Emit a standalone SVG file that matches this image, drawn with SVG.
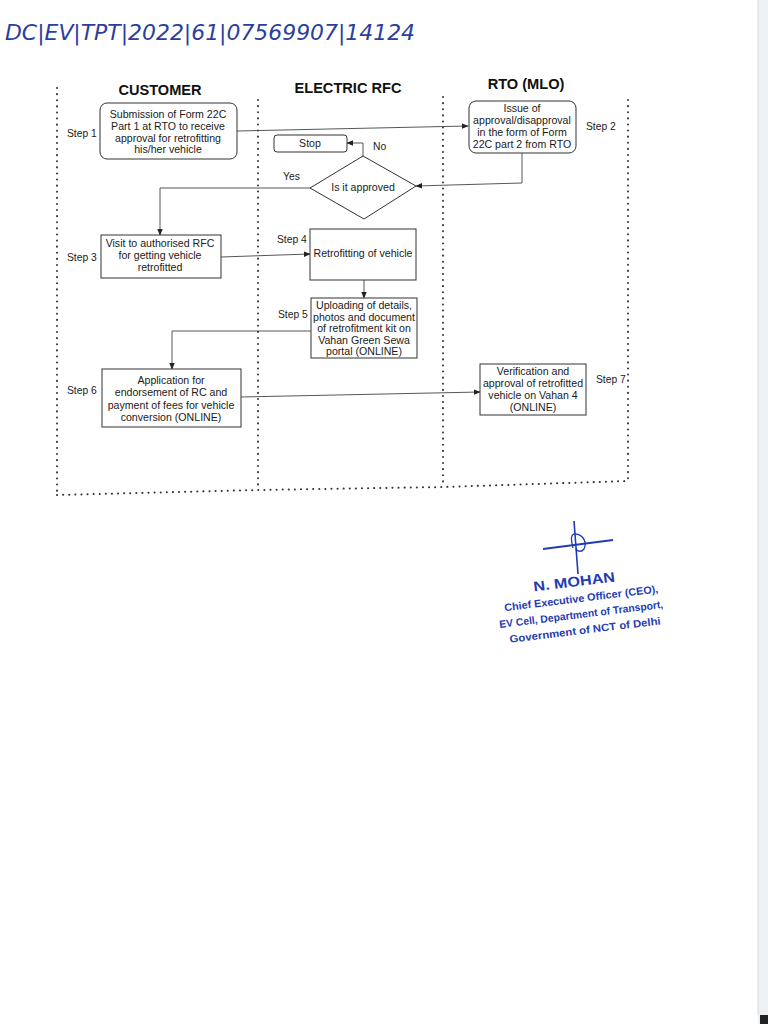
<svg xmlns="http://www.w3.org/2000/svg" width="768" height="1024" viewBox="0 0 768 1024">
<defs>
<style>
.t{font-family:"Liberation Sans",Arial,sans-serif;font-size:10.6px;fill:#1a1a1a;text-anchor:middle}
.s{font-family:"Liberation Sans",Arial,sans-serif;font-size:10.3px;fill:#1a1a1a}
.h{font-family:"Liberation Sans",Arial,sans-serif;font-size:14.6px;font-weight:bold;fill:#111;text-anchor:middle}
.box{fill:#fff;stroke:#333;stroke-width:1}
.ln{fill:none;stroke:#444;stroke-width:0.9}
.dot{fill:none;stroke:#333;stroke-width:2;stroke-linecap:round;stroke-dasharray:0.1 6}
.sig{font-family:"Liberation Sans",Arial,sans-serif;font-weight:bold;fill:#1f3cb4;text-anchor:middle}
</style>
<marker id="ah" viewBox="0 0 10 10" refX="9" refY="5" markerWidth="7" markerHeight="7" orient="auto" markerUnits="userSpaceOnUse">
<path d="M0,1 L10,5 L0,9 z" fill="#222"/>
</marker>
</defs>
<rect width="768" height="1024" fill="#fff"/>
<rect x="758" y="0" width="10" height="1024" fill="#eef1f4"/>
<rect x="760" y="1015" width="8" height="9" fill="#222"/>
<line x1="758" y1="0" x2="758" y2="1015" stroke="#dcdcdc" stroke-width="1"/>

<text x="5" y="40" font-family="'DejaVu Sans',sans-serif" font-size="21" font-style="italic" fill="#2b3e9e" textLength="410" lengthAdjust="spacingAndGlyphs">DC|EV|TPT|2022|61|07569907|14124</text>

<g id="lanes">
<line class="dot" x1="57" y1="88" x2="57" y2="495"/>
<line class="dot" x1="258" y1="100" x2="258" y2="490"/>
<line class="dot" x1="443" y1="97" x2="443" y2="487"/>
<line class="dot" x1="628" y1="100" x2="628" y2="481"/>
<polyline class="dot" points="57,495 258,490 443,487 628,481"/>
<text class="h" x="160" y="95">CUSTOMER</text>
<text class="h" x="348" y="93">ELECTRIC RFC</text>
<text class="h" x="526" y="89">RTO (MLO)</text>
</g>

<g id="connectors">
<path class="ln" d="M237,131 L468,126" marker-end="url(#ah)"/>
<path class="ln" d="M522,153 L522,183 L416,186" marker-end="url(#ah)"/>
<path class="ln" d="M363,156 L363,143 L347,143" marker-end="url(#ah)"/>
<path class="ln" d="M310,188 L160,188 L160,235" marker-end="url(#ah)"/>
<path class="ln" d="M221,257 L310,254" marker-end="url(#ah)"/>
<path class="ln" d="M364,280 L364,298" marker-end="url(#ah)"/>
<path class="ln" d="M311,331 L172,331 L172,369" marker-end="url(#ah)"/>
<path class="ln" d="M241,397 L480,392" marker-end="url(#ah)"/>
<text class="s" x="373" y="150">No</text>
<text class="s" x="283" y="180">Yes</text>
</g>

<g id="step1">
<rect class="box" x="100" y="103" width="137" height="56" rx="7"/>
<text class="t" x="168" y="118">Submission of Form 22C</text>
<text class="t" x="168" y="130">Part 1 at RTO to receive</text>
<text class="t" x="168" y="142">approval for retrofitting</text>
<text class="t" x="168" y="153">his/her vehicle</text>
<text class="s" x="67" y="137">Step 1</text>
</g>

<g id="step2">
<rect class="box" x="469" y="101" width="107" height="52" rx="7"/>
<text class="t" x="522" y="112">Issue of</text>
<text class="t" x="522" y="124">approval/disapproval</text>
<text class="t" x="522" y="136">in the form of Form</text>
<text class="t" x="522" y="148">22C part 2 from RTO</text>
<text class="s" x="586" y="130">Step 2</text>
</g>

<g id="decision">
<polygon class="box" points="363,156 416,186 364,219 310,188"/>
<text class="t" x="363" y="191">Is it approved</text>
</g>

<g id="stop">
<rect class="box" x="274" y="135" width="73" height="17" rx="3"/>
<text class="t" x="310" y="147">Stop</text>
</g>

<g id="step3">
<rect class="box" x="101" y="235" width="120" height="43"/>
<text class="t" x="160" y="247">Visit to authorised RFC</text>
<text class="t" x="160" y="259">for getting vehicle</text>
<text class="t" x="160" y="271">retrofitted</text>
<text class="s" x="67" y="261">Step 3</text>
</g>

<g id="step4">
<rect class="box" x="310" y="229" width="106" height="51"/>
<text class="t" x="363" y="257">Retrofitting of vehicle</text>
<text class="s" x="277" y="243">Step 4</text>
</g>

<g id="step5">
<rect class="box" x="311" y="298" width="106" height="60"/>
<text class="t" x="364" y="309">Uploading of details,</text>
<text class="t" x="364" y="321">photos and document</text>
<text class="t" x="364" y="332">of retrofitment kit on</text>
<text class="t" x="364" y="344">Vahan Green Sewa</text>
<text class="t" x="364" y="355">portal (ONLINE)</text>
<text class="s" x="278" y="318">Step 5</text>
</g>

<g id="step6">
<rect class="box" x="102" y="369" width="139" height="58"/>
<text class="t" x="171" y="384">Application for</text>
<text class="t" x="171" y="396">endorsement of RC and</text>
<text class="t" x="171" y="409">payment of fees for vehicle</text>
<text class="t" x="171" y="421">conversion (ONLINE)</text>
<text class="s" x="67" y="394">Step 6</text>
</g>

<g id="step7">
<rect class="box" x="480" y="364" width="106" height="51"/>
<text class="t" x="533" y="375">Verification and</text>
<text class="t" x="533" y="387">approval of retrofitted</text>
<text class="t" x="533" y="399">vehicle on Vahan 4</text>
<text class="t" x="533" y="411">(ONLINE)</text>
<text class="s" x="596" y="383">Step 7</text>
</g>

<g id="signature">
<path d="M543,549 L613,540" stroke="#1f3cb4" stroke-width="1.8" fill="none"/>
<path d="M574,521 L578,574" stroke="#1f3cb4" stroke-width="1.6" fill="none"/>
<path d="M573,548 C571,540 570,533 576,534 C584,535 587,543 584,549 C581,553 576,551 576,548" stroke="#1f3cb4" stroke-width="1.3" fill="none"/>
<g transform="rotate(-7 580 605)">
<text class="sig" x="577" y="586" font-size="14" textLength="82" lengthAdjust="spacingAndGlyphs">N. MOHAN</text>
<text class="sig" x="582" y="602" font-size="10.5" textLength="155" lengthAdjust="spacingAndGlyphs">Chief Executive Officer (CEO),</text>
<text class="sig" x="580" y="618" font-size="10.5" textLength="165" lengthAdjust="spacingAndGlyphs">EV Cell, Department of Transport,</text>
<text class="sig" x="582" y="634" font-size="10.5" textLength="152" lengthAdjust="spacingAndGlyphs">Government of NCT of Delhi</text>
</g>
</g>
</svg>
